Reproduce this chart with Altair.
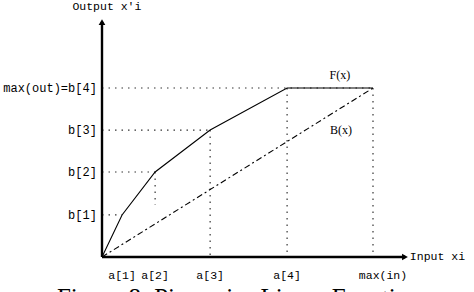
import altair as alt
import pandas as pd

# ---- data ----
a_vals = [7.4, 19.6, 39.9, 68.3, 100.0]          # a[1]..a[4], max(in)
x_labels = ["a[1]", "a[2]", "a[3]", "a[4]", "max(in)"]
b_vals = [24.9, 50.3, 75.1, 100.0]               # b[1]..b[4]
y_labels = ["b[1]", "b[2]", "b[3]", "max(out)=b[4]"]

F_x = [0.0] + a_vals
F_y = [0.0] + b_vals + [100.0]
B_x = [0.0, 100.0]
B_y = [0.0, 100.0]

x_axis_end = 111.8
y_axis_end = 139.0

W, H = 474, 292
xs = alt.Scale(domain=[-37.64, 137.27], nice=False, zero=False)
ys = alt.Scale(domain=[-20.71, 152.07], nice=False, zero=False)

F_df = pd.DataFrame({"x": F_x, "y": F_y, "o": range(len(F_x))})
B_df = pd.DataFrame({"x": B_x, "y": B_y, "o": range(len(B_x))})

# dotted guide segments built from the arrays
guides = [
    (0, a_vals[0], b_vals[0], b_vals[0]),
    (0, a_vals[1], b_vals[1], b_vals[1]),
    (a_vals[1], a_vals[1], b_vals[1], 30.8),
    (0, a_vals[2], b_vals[2], b_vals[2]),
    (a_vals[2], a_vals[2], b_vals[2], 0),
    (0, a_vals[4], b_vals[3], b_vals[3]),
    (a_vals[3], a_vals[3], b_vals[3], 0),
    (a_vals[4], a_vals[4], b_vals[3], 0),
]
G_df = pd.DataFrame(guides, columns=["x", "x2", "y", "y2"])

axes_df = pd.DataFrame({"x": [0, 0], "x2": [x_axis_end, 0], "y": [0, 0], "y2": [0, y_axis_end]})
arrows_df = pd.DataFrame({"x": [x_axis_end, 0], "y": [0, y_axis_end],
                          "shape": ["triangle-right", "triangle-up"]})

xl_df = pd.DataFrame({"x": a_vals, "label": x_labels, "y": [-11.0] * 5})
yl_df = pd.DataFrame({"x": [-1.9] * 4, "y": b_vals, "label": y_labels})

mono = "Liberation Mono"
serif = "Liberation Serif"

guide_layer = alt.Chart(G_df).mark_rule(color="black", strokeWidth=1.2, strokeDash=[1.5, 5], opacity=0.8).encode(
    x=alt.X("x:Q", scale=xs, axis=None), x2="x2:Q",
    y=alt.Y("y:Q", scale=ys, axis=None), y2="y2:Q")

F_layer = alt.Chart(F_df).mark_line(color="black", strokeWidth=1.1).encode(
    x=alt.X("x:Q", scale=xs, axis=None), y=alt.Y("y:Q", scale=ys, axis=None), order="o:Q")

B_layer = alt.Chart(B_df).mark_line(color="black", strokeWidth=1.1, strokeDash=[6, 3, 2, 3]).encode(
    x=alt.X("x:Q", scale=xs, axis=None), y=alt.Y("y:Q", scale=ys, axis=None), order="o:Q")

axes_layer = alt.Chart(axes_df).mark_rule(color="black", strokeWidth=2.4).encode(
    x=alt.X("x:Q", scale=xs, axis=None), x2="x2:Q",
    y=alt.Y("y:Q", scale=ys, axis=None), y2="y2:Q")

arrow_layer = alt.Chart(arrows_df).mark_point(filled=True, color="black", size=45, opacity=1).encode(
    x=alt.X("x:Q", scale=xs, axis=None), y=alt.Y("y:Q", scale=ys, axis=None),
    shape=alt.Shape("shape:N", scale=None, legend=None))

xl_layer = alt.Chart(xl_df[:4]).mark_text(font=mono, fontSize=11.5, color="black", baseline="middle").encode(
    x=alt.X("x:Q", scale=xs, axis=None), y=alt.Y("y:Q", scale=ys, axis=None), text="label:N")
xl_last = alt.Chart(xl_df[4:]).mark_text(font=mono, fontSize=11.5, color="black", baseline="middle", dx=10).encode(
    x=alt.X("x:Q", scale=xs, axis=None), y=alt.Y("y:Q", scale=ys, axis=None), text="label:N")

yl_layer = alt.Chart(yl_df).mark_text(font=mono, fontSize=12, color="black", align="right", baseline="middle").encode(
    x=alt.X("x:Q", scale=xs, axis=None), y=alt.Y("y:Q", scale=ys, axis=None), text="label:N")

def txt(x, y, s, **kw):
    d = pd.DataFrame({"x": [x], "y": [y], "t": [s]})
    return alt.Chart(d).mark_text(color="black", **kw).encode(
        x=alt.X("x:Q", scale=xs, axis=None), y=alt.Y("y:Q", scale=ys, axis=None), text="t:N")

out_title = txt(1.8, 147.9, "Output x'i", font=mono, fontSize=11.5, baseline="middle")
in_title = txt(113.6, 0, "Input xi", font=mono, fontSize=11.5, align="left", baseline="middle")
F_lab = txt(87.8, 107.7, "F(x)", font=serif, fontSize=12, baseline="middle")
B_lab = txt(88.2, 75.1, "B(x)", font=serif, fontSize=12, baseline="middle")
caption = txt(50.5, -29.0, "Figure 8: Piecewise Linear Function", font=serif, fontSize=25,
              baseline="alphabetic")

chart = alt.layer(guide_layer, B_layer, F_layer, axes_layer, arrow_layer,
                  xl_layer, xl_last, yl_layer, out_title, in_title, F_lab, B_lab, caption).properties(
    width=W, height=H, padding=0, autosize=alt.AutoSizeParams(type="none"),
    background="white"
).configure_view(stroke=None, clip=False)

chart.save("out.html", embed_options={"renderer": "svg", "actions": False})
